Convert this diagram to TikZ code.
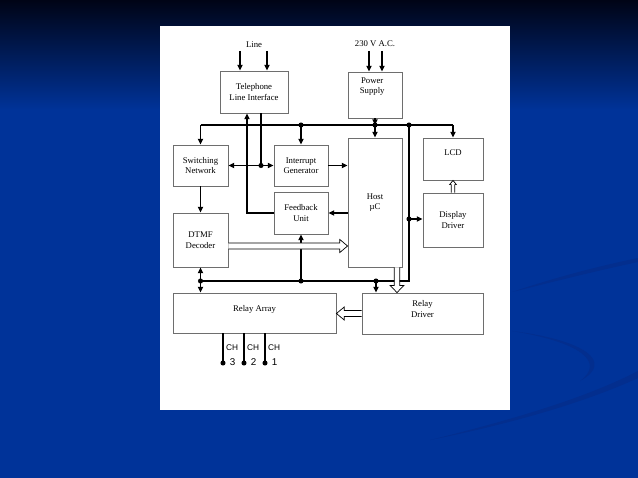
\documentclass[tikz,border=0pt]{standalone}
\usepackage{fontspec}
\setmainfont{Liberation Serif}
\newfontfamily\chfont{Liberation Sans}
\usetikzlibrary{arrows.meta,calc}

\definecolor{slideblue}{RGB}{0,51,153}
\definecolor{slidetop}{RGB}{0,4,22}
\definecolor{swoosh}{RGB}{3,46,142}
\definecolor{boxgray}{RGB}{110,110,110}

\tikzset{
  blk/.style={draw=boxgray, line width=0.6pt, fill=white, inner sep=0pt, align=center,
    font=\fontsize{6.2}{7.4}\selectfont},
  sz/.style 2 args={minimum width=#1*0.025cm, minimum height=#2*0.025cm},
  lbl/.style={font=\fontsize{6.2}{7.4}\selectfont, align=center, inner sep=0pt},
  conn/.style={line width=1pt},
  arr/.style={conn, -{Triangle[length=4pt,width=3.6pt]}},
  dbl/.style={conn, {Triangle[length=4pt,width=3.6pt]}-{Triangle[length=4pt,width=3.6pt]}},
  hollow/.style={draw=black, line width=0.5pt, fill=white},
  jdot/.style={circle, fill=black, inner sep=0pt, minimum size=3.6pt},
}

% hollow block arrow: from, to, shaft half width, head half width, head length
\newcommand{\harrow}[5]{%
  \coordinate (hc) at ($(#2)!#5!(#1)$);
  \draw[hollow] ($(#1)!#3!90:(#2)$) -- ($(hc)!#3!90:(#2)$) -- ($(hc)!#4!90:(#2)$) -- (#2)
    -- ($(hc)!#4!-90:(#2)$) -- ($(hc)!#3!-90:(#2)$) -- ($(#1)!#3!-90:(#2)$);
}

\begin{document}
\begin{tikzpicture}[x=0.025cm, y=-0.025cm]
  % slide background
  \fill[slideblue] (0,0) rectangle (638,478);
  \shade[top color=slidetop, bottom color=slideblue] (0,0) rectangle (638,110);
  \fill[swoosh] (512,292) .. controls (560,276) and (600,266) .. (638,258)
    -- (638,262) .. controls (600,270) and (560,280) .. (512,292);
  \fill[swoosh] (512,331) .. controls (585,340) and (615,362) .. (580,381)
    .. controls (606,362) and (580,342) .. (512,331);
  \fill[swoosh] (430,440) .. controls (520,418) and (590,396) .. (638,371)
    -- (638,378) .. controls (590,400) and (520,422) .. (430,440);
  \fill[white] (160,26) rectangle (510,410);

  % blocks
  \node[blk, sz={68}{42}] (tli) at (254,92) {Telephone\\Line Interface};
  \node[blk, sz={54}{46}, label={[lbl, yshift=6pt, xshift=-2pt]center:Power\\Supply}] (psu) at (375,95) {};
  \node[blk, sz={55}{41}] (sw) at (200.5,165.5) {Switching\\Network};
  \node[blk, sz={54}{41}] (ig) at (301,165.5) {Interrupt\\Generator};
  \node[blk, sz={54}{129}] (host) at (375,202.5) {Host\\µC};
  \node[blk, sz={60}{42}, label={[lbl, yshift=4.3pt]center:LCD}] (lcd) at (453,159) {};
  \node[blk, sz={60}{54}] (dd) at (453,220) {Display\\Driver};
  \node[blk, sz={54}{42}] (fb) at (301,213) {Feedback\\Unit};
  \node[blk, sz={55}{54}] (dtmf) at (200.5,240) {DTMF\\Decoder};
  \node[blk, sz={163}{40}, label={[lbl, yshift=2.8pt]center:Relay Array}] (ra) at (254.5,313) {};
  \node[blk, sz={121}{41}, label={[lbl, yshift=3.2pt]center:Relay\\Driver}] (rd) at (422.5,313.5) {};

  % inputs
  \node[lbl] (line) at (254,45) {Line};
  \node[lbl] (mains) at (375,44) {230 V A.C.};
  \coordinate (l1) at (240,51);
  \coordinate (l2) at (267,51);
  \coordinate (m1) at (369,51);
  \coordinate (m2) at (382,51);
  \draw[arr] (l1) -- (l1 |- tli.north);
  \draw[arr] (l2) -- (l2 |- tli.north);
  \draw[arr] (m1) -- (m1 |- psu.north);
  \draw[arr] (m2) -- (m2 |- psu.north);

  % upper bus
  \coordinate (busL) at (200.5,125);
  \coordinate (busR) at (lcd.north |- busL);
  \coordinate (j1) at (ig.north |- busL);
  \coordinate (j2) at (psu.south |- busL);
  \coordinate (j3) at (409,125);
  \coordinate (jd) at (409,219);
  \coordinate (lbR) at (409,281);
  \coordinate (lbL) at (200.5,281);
  \coordinate (lj1) at (fb.south |- lbL);
  \coordinate (lj2) at (376,281);
  \draw[conn] (busL) -- (busR);
  \draw[arr] (busL) -- (sw.north);
  \draw[arr] (j1) -- (ig.north);
  \draw[arr] (psu.south) -- (j2);
  \draw[arr] (j2) -- (host.north);
  \draw[arr] (busR) -- (lcd.north);
  \draw[conn] (j3) -- (lbR) -- (lbL);
  \draw[arr] (jd) -- (dd.west |- jd);

  % telephone line interface
  \coordinate (tin) at ($(tli.south)+(-7,0)$);
  \coordinate (tout) at ($(tli.south)+(7,0)$);
  \coordinate (tj) at (tout |- sw.east);
  \draw[arr] (fb.west) -| (tin);
  \draw[conn] (tout) -- (tj);
  \draw[dbl] (sw.east) -- (ig.west);
  \draw[arr] (ig.east) -- (host.west |- ig.east);
  \draw[arr] (host.west |- fb.east) -- (fb.east);
  \draw[arr] (sw.south) -- (dtmf.north);

  % lower bus
  \draw[arr] (lbL) -- (dtmf.south);
  \draw[arr] (lbL) -- (lbL |- ra.north);
  \draw[arr] (lj1) -- (fb.south);
  \draw[arr] (lj2) -- (lj2 |- rd.north);

  % data paths
  \coordinate (dt) at ($(dtmf.east)+(0,6)$);
  \harrow{dt}{host.west |- dt}{2.2pt}{4.6pt}{5.5pt}
  \coordinate (hb) at ($(host.south)+(22,0)$);
  \harrow{hb}{hb |- rd.north}{1.9pt}{4.8pt}{5pt}
  \harrow{rd.west}{ra.east |- rd.west}{2.2pt}{4.6pt}{5.5pt}
  \harrow{dd.north}{lcd.south}{1.2pt}{2.4pt}{3pt}

  % junctions
  \foreach \p in {j1,j2,j3,jd,tj,lbL,lj1,lj2}{
    \node[jdot] at (\p) {};
  }

  % relay channels
  \foreach \x/\n in {223/3,244/2,265/1}{
    \coordinate (ch\n) at (\x,363);
    \draw[conn] (ch\n |- ra.south) -- (ch\n);
    \node[jdot] at (ch\n) {};
    \node[font=\chfont\fontsize{5.9}{7}\selectfont, inner sep=0pt] (chl\n) at (\x+9,348) {CH};
    \node[font=\chfont\fontsize{7}{8}\selectfont, inner sep=0pt] (chn\n) at (\x+9.5,362) {\n};
  }
\end{tikzpicture}
\end{document}
